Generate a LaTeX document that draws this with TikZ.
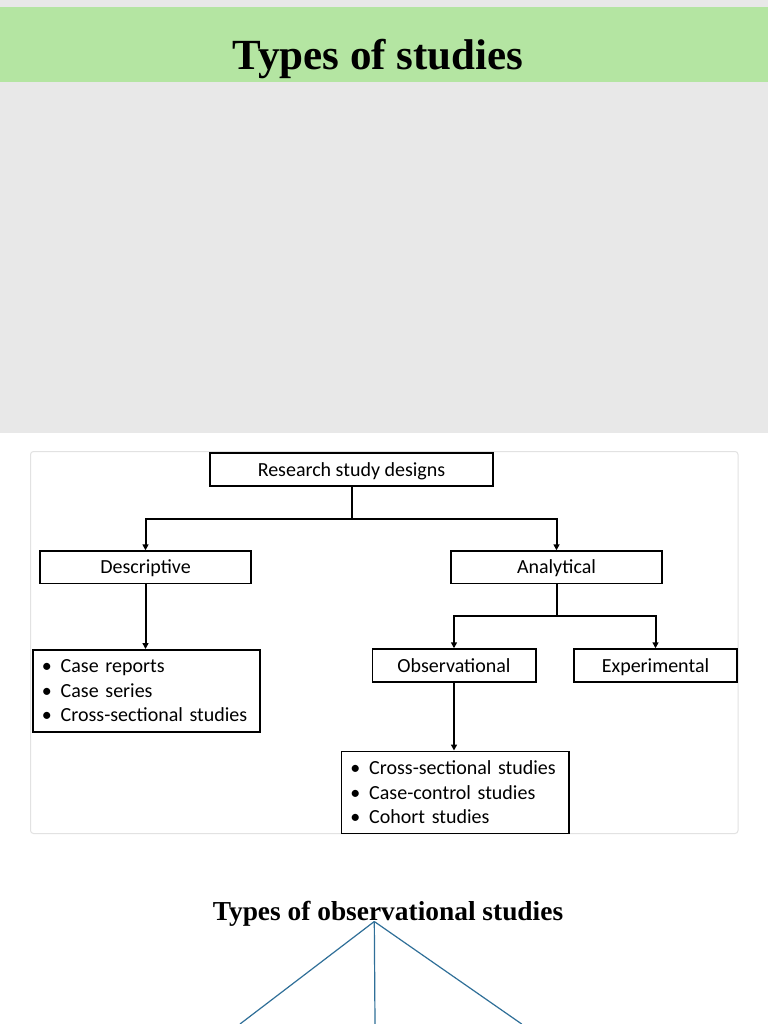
\documentclass[tikz,border=0pt]{standalone}
\usepackage{fontspec}
\setmainfont{Liberation Serif}
\newfontfamily\boxfont{Carlito}
\usetikzlibrary{arrows.meta}
\definecolor{bggray}{HTML}{E8E8E8}
\definecolor{bandgreen}{HTML}{B4E5A2}
\definecolor{panelline}{HTML}{E2E2E2}
\definecolor{treeblue}{HTML}{2F6F98}
\tikzset{
  box/.style={draw=black, line width=1.5pt, fill=white, inner sep=0pt,
    font=\boxfont\fontsize{20}{24.5}\selectfont, text=black},
  onebox/.style={box, text height=15.5pt, text depth=2.5pt},
  listbox/.style={box, align=left, inner xsep=9pt},
  conn/.style={draw=black, line width=2pt,
    -{Triangle[length=6pt,width=6pt]}},
  plain/.style={draw=black, line width=2pt},
  titletext/.style={font=\bfseries\fontsize{43}{50}\selectfont, inner sep=0pt, anchor=base},
  subtitletext/.style={font=\bfseries\fontsize{27.4}{32}\selectfont, inner sep=0pt, anchor=base},
  blueline/.style={draw=treeblue, line width=1.2pt}
}
\newcommand{\bul}[1]{\mbox{\makebox[19pt][l]{\textbullet}#1}}
\begin{document}
\begin{tikzpicture}[x=1pt,y=-1pt]
\useasboundingbox (0,0) rectangle (768,1024);
% backgrounds
\fill[white] (0,0) rectangle (768,1024);
\fill[bggray] (0,0) rectangle (768,432.5);
\fill[bandgreen] (0,7.5) rectangle (768,82);
\node[titletext] (title) at (378,70) {Types of studies};
% panel
\draw[panelline, fill=white, line width=1pt, rounded corners=3pt] (30.5,451.5) rectangle (738,833.5);
% boxes
\node[onebox, minimum width=283pt, minimum height=33pt] (rsd) at (351.5,469.5) {Research study designs};
\node[onebox, minimum width=211pt, minimum height=32.5pt] (desc) at (145.5,567.3) {Descriptive};
\node[onebox, minimum width=211pt, minimum height=32.5pt] (anal) at (556.5,567.3) {Analytical};
\node[listbox, anchor=north west, minimum width=227pt, minimum height=82pt, text width=209pt] (dlist) at (32,649)
  {\bul{Case reports}\\\bul{Case series}\\\bul{Cross-sectional studies}};
\node[onebox, minimum width=163.5pt, minimum height=33pt] (obs) at (454,665.5) {Observational};
\node[onebox, minimum width=163pt, minimum height=33pt] (exp) at (655.5,665.5) {Experimental};
\node[listbox, anchor=north west, minimum width=227.5pt, minimum height=82pt, text width=209.5pt] (olist) at (340.5,750.5)
  {\bul{Cross-sectional studies}\\\bul{Case-control studies}\\\bul{Cohort studies}};
% connectors
\draw[plain] (rsd.south) -- ++(0,32) coordinate (j1);
\draw[conn] (j1) -| (desc.north);
\draw[conn] (j1) -| (anal.north);
\draw[conn] (desc.south) -- (desc.south |- dlist.north);
\draw[plain] (anal.south) -- ++(0,32) coordinate (j2);
\draw[conn] (j2) -| (obs.north);
\draw[conn] (j2) -| (exp.north);
\draw[conn] (obs.south) -- (obs.south |- olist.north);
% bottom part
\node[subtitletext] (sub) at (388,920) {Types of observational studies};
\coordinate (apex) at (374.3,921.5);
\coordinate (e1) at (240,1024);
\coordinate (e2) at (375,1024);
\coordinate (e3) at (521.7,1024);
\draw[blueline] (apex) -- (e1);
\draw[blueline] (apex) -- (e2);
\draw[blueline] (apex) -- (e3);
\end{tikzpicture}
\end{document}
